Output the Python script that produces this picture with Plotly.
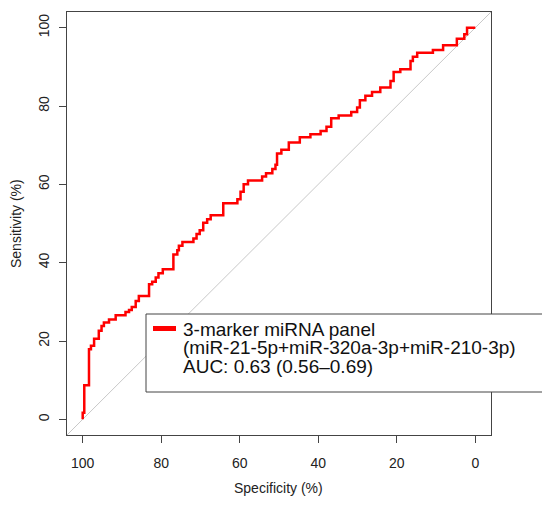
import plotly.graph_objects as go

# ROC curve (specificity %, sensitivity %)
specificite = [100, 100, 99.6, 98.4, 97.9, 97.1, 95.9, 95.2, 94.6, 93.3, 91.6,
               89.1, 88.2, 87.5, 86.5, 85.7, 83.1, 82.3, 81.4, 80.7, 79.6,
               76.9, 75.9, 75.5, 74.6, 71.8, 71.0, 70.2, 69.3, 68.3, 67.4,
               64.2, 60.6, 59.8, 59.0, 57.9, 54.3, 53.3, 51.7, 50.9, 50.5,
               49.4, 47.5, 44.7, 42.0, 39.4, 37.9, 36.7, 34.8, 31.6, 30.1,
               29.4, 28.0, 26.3, 24.2, 21.6, 20.8, 19.1, 16.5, 15.9, 14.8,
               10.8, 8.2, 4.7, 2.8, 2.1, 0]
sensibilite = [0, 1.7, 8.7, 17.9, 18.8, 20.6, 22.6, 23.8, 24.7, 25.5, 26.6,
               27.4, 27.9, 28.7, 30.2, 31.5, 34.5, 35.1, 36.2, 37.3, 38.3,
               42.1, 43.2, 44.3, 45.3, 46.2, 47.3, 48.3, 50.2, 51.1, 52.1,
               55.2, 56.2, 58.1, 60.0, 61.0, 62.0, 62.8, 63.9, 65.0, 67.9,
               68.8, 70.7, 72.0, 72.8, 73.6, 74.7, 76.9, 77.6, 78.5, 79.6,
               81.5, 82.6, 83.6, 84.7, 86.4, 88.7, 89.4, 91.5, 92.6, 93.6,
               94.3, 95.5, 97.2, 98.3, 100.0, 100]

ticks = [0, 20, 40, 60, 80, 100]
legende = ["3-marker miRNA panel",
           "(miR-21-5p+miR-320a-3p+miR-210-3p)",
           "AUC: 0.63 (0.56\u20130.69)"]

POLICE = "Liberation Sans, Arial, sans-serif"
W, H = 550, 505
OFF = 8  # marge par défaut du <body>
L, R, T, B = 67 - OFF, 59 + OFF, 12 - OFF, 70 + OFF
pw, ph = W - L - R, H - T - B


# positions en pixels de la page -> coordonnées paper
def px_x(x):
    return (x - OFF - L) / pw


def px_y(y):
    return (H - B - (y - OFF)) / ph


fig = go.Figure()

# diagonale de référence
fig.add_trace(go.Scatter(x=[104, -4], y=[-4, 104], mode="lines",
                         line=dict(color="#c8c8c8", width=1),
                         hoverinfo="skip", showlegend=False))

fig.add_trace(go.Scatter(x=specificite, y=sensibilite, mode="lines",
                         line=dict(color="#ff0000", width=2.5, shape="hv"),
                         showlegend=False))

axe = dict(showgrid=False, zeroline=False, showline=True, linecolor="#444",
           linewidth=1, mirror=True, ticks="outside", ticklen=7,
           tickcolor="#444", tickvals=ticks,
           tickfont=dict(family=POLICE, size=14, color="#222"))

fig.update_xaxes(range=[104, -4], ticklabelstandoff=8, **axe)
fig.update_yaxes(range=[-4, 104], tickangle=-90, ticklabelstandoff=4, **axe)

# boîte de légende
fig.add_shape(type="rect", xref="paper", yref="paper",
              x0=px_x(146), x1=px_x(560), y0=px_y(392), y1=px_y(314),
              line=dict(color="#444", width=1), fillcolor="white", layer="above")
fig.add_shape(type="line", xref="paper", yref="paper",
              x0=px_x(153), x1=px_x(176), y0=px_y(328.5), y1=px_y(328.5),
              line=dict(color="#ff0000", width=5), layer="above")
for i, txt in enumerate(legende):
    fig.add_annotation(text=txt, xref="paper", yref="paper",
                       x=px_x(181), y=px_y(329 + 18.5 * i),
                       xanchor="left", yanchor="middle", showarrow=False,
                       font=dict(family=POLICE, size=19, color="#111"))

# titres des axes
fig.add_annotation(text="Specificity (%)", xref="paper", yref="paper",
                   x=px_x(278), y=px_y(488), xanchor="center", yanchor="middle",
                   showarrow=False, font=dict(family=POLICE, size=14, color="#222"))
fig.add_annotation(text="Sensitivity (%)", xref="paper", yref="paper",
                   x=px_x(16), y=px_y(224), xanchor="center", yanchor="middle",
                   textangle=-90, showarrow=False,
                   font=dict(family=POLICE, size=14, color="#222"))

fig.update_layout(width=W, height=H, margin=dict(l=L, r=R, t=T, b=B),
                  plot_bgcolor="white", paper_bgcolor="white")

fig.write_html("out.html")
